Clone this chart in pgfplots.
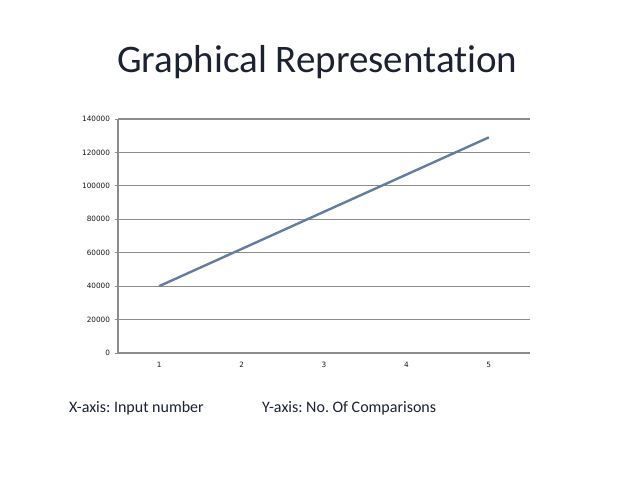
\documentclass[border=0pt]{standalone}
\usepackage{fontspec}
\setmainfont{Carlito}[Ligatures={NoCommon,NoRare}]
\newfontfamily\tickfont{DejaVu Sans}
\usepackage{pgfplots}
\pgfplotsset{compat=1.18}
\definecolor{linecol}{RGB}{100,124,160}
\definecolor{gridcol}{RGB}{140,140,140}
\definecolor{titlecol}{RGB}{28,34,48}
\frenchspacing
\begin{document}
\begin{tikzpicture}[x=1bp,y=1bp]
\path[use as bounding box,fill=white] (0,0) rectangle (638,-478);
\node[anchor=base west,inner sep=0pt,font=\fontsize{39bp}{44bp}\selectfont,text=titlecol] at (117,-73) {Graphical Representation};
\begin{axis}[
  at={(118bp,-353bp)}, anchor=south west,
  scale only axis, width=412bp, height=234bp,
  xmin=0.5, xmax=5.5, ymin=0, ymax=140000,
  axis x line=bottom, axis y line=left,
  axis line style={gridcol, line width=1.1bp, -},
  xtick={1,2,3,4,5}, xticklabels={1,2,3,4,5},
  minor xtick={0.5,1.5,2.5,3.5,4.5,5.5},
  xtick style={draw=none},
  minor tick length=3.5bp,
  every minor tick/.style={gridcol, line width=0.9bp},
  ytick={0,20000,40000,60000,80000,100000,120000,140000},
  yticklabels={0,20000,40000,60000,80000,100000,120000,140000},
  ytick style={gridcol, line width=0.9bp},
  tick align=outside, major tick length=3.5bp,
  ymajorgrids, grid style={gridcol, line width=1.1bp},
  scaled y ticks=false,
  tick label style={font=\tickfont\fontsize{7.3bp}{8.5bp}\selectfont, text=black!90},
  yticklabel style={xshift=-1bp},
  xticklabel style={yshift=-2bp},
  clip=false,
]
\addplot[linecol, line width=2.4bp] coordinates {(1,40000) (2,62250) (3,84500) (4,106750) (5,129000)};
\end{axis}
\node[anchor=base west,inner sep=0pt,font=\fontsize{16bp}{19bp}\selectfont,text=titlecol] at (69,-412) {X-axis: Input number};
\node[anchor=base west,inner sep=0pt,font=\fontsize{16bp}{19bp}\selectfont,text=titlecol] at (262,-412) {Y-axis: No. Of Comparisons};
\end{tikzpicture}
\end{document}
